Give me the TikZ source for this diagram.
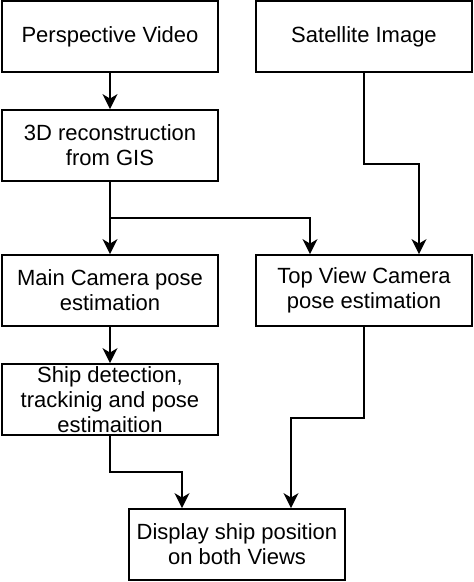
\documentclass[tikz,border=0pt]{standalone}
\usepackage{fontspec}
\setmainfont{Liberation Sans}
\usetikzlibrary{arrows.meta}
\begin{document}
\begin{tikzpicture}[x=1pt,y=-1pt,
  box/.style={draw, line width=1.8pt, minimum width=216pt, minimum height=71pt, inner sep=0pt, align=center, font=\fontsize{22}{25}\selectfont},
  arr/.style={line width=1.8pt, -{Stealth[length=15pt,width=15pt,inset=4.5pt]}},
  ln/.style={line width=1.8pt}]
%%\draw[help lines] (0,0) grid (474,582);
\useasboundingbox (0,0) rectangle (474,582);
\node [box] (video) at (110,36.5) {Perspective Video};
\node [box] (sat) at (364,36.5) {Satellite Image};
\node [box] (recon) at (110,145.5) {3D reconstruction\\from GIS};
\node [box] (main) at (110,290.5) {Main Camera pose\\estimation};
\node [box] (topv) at (364,290.5) {Top View Camera\\pose estimation};
\node [box] (ship) at (110,399.5) {Ship detection,\\trackinig and pose\\estimaition};
\node [box] (disp) at (237,544.5) {Display ship position\\on both Views};
\coordinate (split) at (110,218);
\draw [arr] (video.south) -- (recon.north);
\draw [arr] (recon.south) -- (main.north);
\draw [arr] (split) -| ([xshift=-54pt]topv.north);
\draw [arr] (sat.south) |- ++(55,91) -- ([xshift=55pt]topv.north);
\draw [arr] (main.south) -- (ship.north);
\draw [arr] (ship.south) |- ++(72,36) -- ([xshift=-55pt]disp.north);
\draw [arr] (topv.south) |- ++(-73,91) -- ([xshift=54pt]disp.north);
\end{tikzpicture}
\end{document}
